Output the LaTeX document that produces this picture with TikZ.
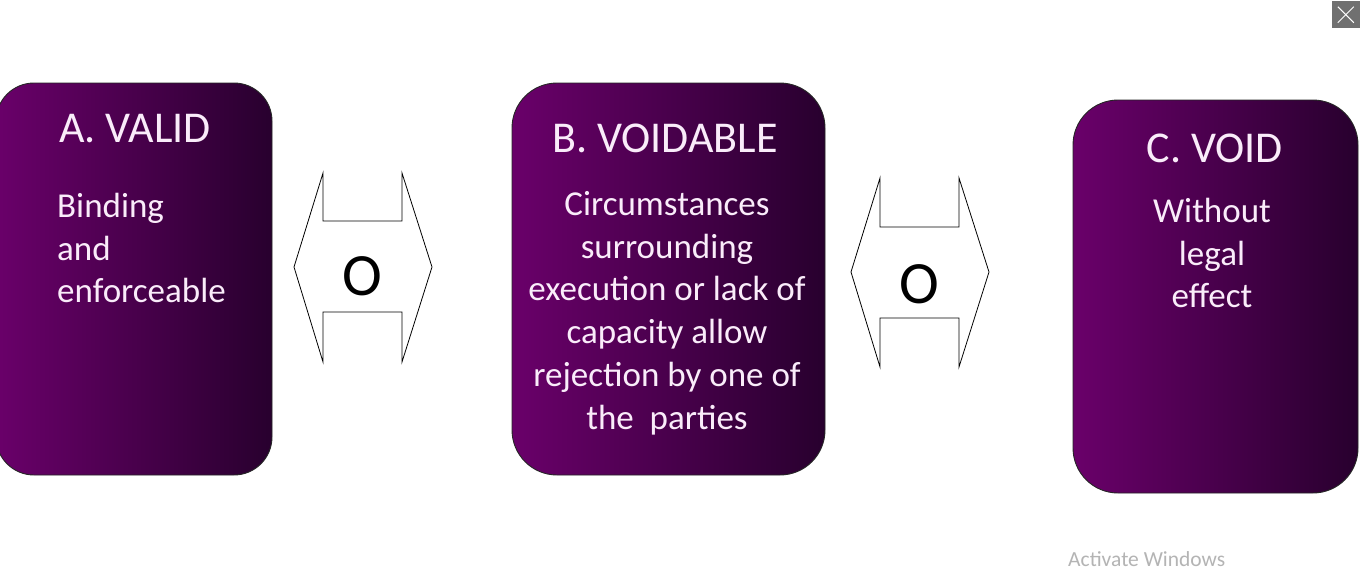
\documentclass[tikz,border=0pt]{standalone}
\usepackage{fontspec}
\setmainfont{Carlito}
\definecolor{purpL}{RGB}{106,0,106}
\definecolor{purpR}{RGB}{40,0,46}
\definecolor{cardtext}{RGB}{250,236,250}
\definecolor{closegray}{RGB}{112,112,112}
\definecolor{wmgray}{RGB}{180,180,180}
\begin{document}
\begin{tikzpicture}[x=1pt,y=-1pt,
  card/.style={draw=black!85, line width=0.9pt, rounded corners=#1, left color=purpL, right color=purpR, inner sep=0pt, outer sep=0pt},
  cardtitle/.style={text=cardtext, font=\fontsize{44}{50}\selectfont, inner sep=0pt, anchor=base},
  cardbody/.style={text=cardtext, font=\fontsize{35}{42}\selectfont, inner sep=0pt, anchor=base},
  dblarrow/.style={draw=black, fill=white, line width=0.8pt, line join=miter},
  arrowlabel/.style={font=\fontsize{60}{64}\selectfont, inner sep=0pt}]
\useasboundingbox (0,0) rectangle (1360,570);
\fill[white] (0,0) rectangle (1360,570);

% cards
\node[card=38, minimum width=276pt, minimum height=392pt, anchor=north west] (A) at (-4,83) {};
\node[card=45, minimum width=313pt, minimum height=392pt, anchor=north west] (B) at (512,83) {};
\node[card=45, minimum width=285pt, minimum height=393pt, anchor=north west] (C) at (1073,100) {};

% card A text
\node[cardtitle] (Atitle) at (135,142) {A. VALID};
\node[cardbody, anchor=base west] (A1) at (57,217) {Binding};
\node[cardbody, anchor=base west] (A2) at (57,260) {and};
\node[cardbody, anchor=base west] (A3) at (57,302) {enforceable};

% card B text
\node[cardtitle] (Btitle) at (665,152) {B. VOIDABLE};
\node[cardbody] (B1) at (667,215) {Circumstances};
\node[cardbody] (B2) at (667,258) {surrounding};
\node[cardbody] (B3) at (667,300) {execution or lack of};
\node[cardbody] (B4) at (667,343) {capacity allow};
\node[cardbody] (B5) at (667,386) {rejection by one of};
\node[cardbody] (B6) at (667,429) {the\ \ parties};

% card C text
\node[cardtitle] (Ctitle) at (1215,162) {C. VOID};
\node[cardbody] (C1) at (1212,222) {Without};
\node[cardbody] (C2) at (1212,265) {legal};
\node[cardbody] (C3) at (1212,307) {effect};

% double arrows
\draw[dblarrow] (294,267) -- (323,173) -- (323,221) -- (402,221) -- (402,173) -- (432,267)
  -- (402,362) -- (402,312) -- (323,312) -- (323,362) -- cycle;
\node[arrowlabel] (O1) at (362,276) {O};
\draw[dblarrow] (851,272) -- (880,178) -- (880,227) -- (959,227) -- (959,178) -- (989,272)
  -- (959,367) -- (959,318) -- (880,318) -- (880,367) -- cycle;
\node[arrowlabel] (O2) at (919,284) {O};

% close button
\node[fill=closegray, minimum width=28pt, minimum height=27pt, inner sep=0pt, anchor=north east] (close) at (1360,1) {};
\draw[white, line width=1pt] ([shift={(-8,-8)}]close.center) -- ([shift={(8,8)}]close.center);
\draw[white, line width=1pt] ([shift={(-8,8)}]close.center) -- ([shift={(8,-8)}]close.center);

% watermark
\node[text=wmgray, font=\fontsize{21.5}{24}\selectfont, inner sep=0pt, anchor=base west] (wm) at (1068,566) {Activate Windows};
\end{tikzpicture}
\end{document}
